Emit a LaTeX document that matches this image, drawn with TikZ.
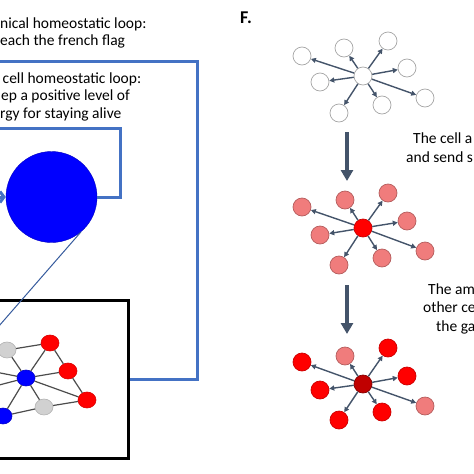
\documentclass[tikz,border=0pt]{standalone}
\usepackage{fontspec}
\setmainfont{Carlito}
\usetikzlibrary{arrows.meta, positioning, shapes.geometric}
\definecolor{loopblue}{HTML}{4472C4}
\definecolor{slate}{HTML}{44546A}
\definecolor{salmon}{HTML}{F07C7C}
\definecolor{darkred}{HTML}{C00000}

\begin{document}
\begin{tikzpicture}[x=1pt, y=-1pt,
  every node/.style={font=\fontsize{15.5}{18}\selectfont, inner sep=0pt},
  lbl/.style={anchor=base west},
  loopline/.style={loopblue, line width=3pt},
  zoomline/.style={loopblue!80!black, line width=1pt},
  netnode/.style={ellipse, minimum width=18pt, minimum height=16pt, line width=0.6pt},
  netedge/.style={black!70, line width=1.2pt},
  gnode/.style={netnode, fill=black!18, draw=black!30},
  rnode/.style={netnode, fill=red, draw=red!85!black},
  bnode/.style={netnode, fill=blue, draw=blue!80!black},
  cell/.style={circle, minimum size=18pt, line width=0.7pt},
  blank/.style={cell, fill=white, draw=black!35},
  pink/.style={cell, fill=salmon, draw=salmon!75!black},
  hot/.style={cell, fill=red, draw=red!80!black},
  core/.style={cell, fill=darkred, draw=darkred!70!black},
  signal/.style={slate, line width=1.4pt, -{Triangle[length=5pt, width=5pt]}},
  bigarrow/.style={slate, line width=4pt, -{Triangle[length=11pt, width=12pt]}}
]
  \useasboundingbox (0,0) rectangle (474,474);
  \clip (0,0) rectangle (474,474);

  % left panel
  \node[lbl] (l1) at (0,28) {nical homeostatic loop:};
  \node[lbl] (l2) at (0,45) {each the french flag};
  \node[lbl] (l3) at (2.5,83) {cell homeostatic loop:};
  \node[lbl] (l4) at (1,100) {ep a positive level of};
  \node[lbl] (l5) at (0,118) {rgy for staying alive};

  \node[circle, fill=blue, draw=blue!75!black, minimum size=91pt] (soma) at (51.5,197) {};
  \node[draw, line width=3pt, minimum width=150pt, minimum height=158pt, anchor=north east] (netbox) at (130,299) {};

  \coordinate (far1) at (-12,61);
  \coordinate (far2) at (-12,128);
  \coordinate (far3) at (-12,197);
  \coordinate (zoomend) at (-8,334);
  \draw[loopline] (netbox.east) -| (197,61) -- (far1);
  \draw[loopline, -{Straight Barb[length=4pt, width=11pt]}] (soma.east) -| (120,128) -- (far2) -- (far3) -- (soma.west);
  \draw[zoomline] (soma.-50) -- (zoomend);

  \coordinate (out1) at (-20,369);
  \coordinate (out2) at (-20,390);
  \node[gnode] (g1) at (7,350) {};
  \node[rnode] (r1) at (50,343) {};
  \node[rnode] (r2) at (68,371) {};
  \node[bnode] (b1) at (26,378) {};
  \node[rnode] (r3) at (87,400) {};
  \node[gnode] (g2) at (44,407) {};
  \node[bnode] (b2) at (3,416) {};
  \foreach \u/\v in {g1/r1, r1/r2, r2/r3, b1/r1, b1/g1, b1/r2, b1/r3, b1/g2, g2/r3, b2/g2, b2/b1, b1/out1, b1/out2}
    \draw[netedge] (\u) -- (\v);

  % right panel
  \node[anchor=base west, font=\fontsize{18}{20}\selectfont\bfseries] (F) at (240,23) {F.};

  \node[blank] (a) at (363,76) {};
  \foreach \dx/\dy [count=\i] in {-61/-20, -43/6, -24/37, -19/-28, 25/-35, 44/-8, 19/29, 62/22} {
    \node[blank] (a\i) at (363+\dx,76+\dy) {};
    \draw[signal] (a) -- (a\i);
  }

  \node[hot] (b) at (363,228) {};
  \foreach \dx/\dy [count=\i] in {-61/-21, -43/7, -24/37, -18/-28, 25/-35, 44/-7, 19/30, 62/23} {
    \node[pink] (b\i) at (363+\dx,228+\dy) {};
    \draw[signal] (b) -- (b\i);
  }

  \node[core] (c) at (363,384) {};
  \foreach \dx/\dy/\s [count=\i] in {-61/-22/hot, -43/6/hot, -24/36/hot, -18/-28/pink, 25/-36/hot, 44/-8/hot, 19/28/hot, 62/22/pink} {
    \node[\s] (c\i) at (363+\dx,384+\dy) {};
    \draw[signal] (c) -- (c\i);
  }

  \coordinate (s1) at (347,132);
  \coordinate (e1) at (347,181);
  \coordinate (s2) at (347,285);
  \coordinate (e2) at (347,334);
  \draw[bigarrow] (s1) -- (e1);
  \draw[bigarrow] (s2) -- (e2);

  \node[lbl] (t1) at (413,143) {The cell a};
  \node[lbl] (t2) at (406,162) {and send s};
  \node[lbl] (t3) at (428,294) {The am};
  \node[lbl] (t4) at (423,312) {other ce};
  \node[lbl] (t5) at (436,331) {the ga};
\end{tikzpicture}
\end{document}
